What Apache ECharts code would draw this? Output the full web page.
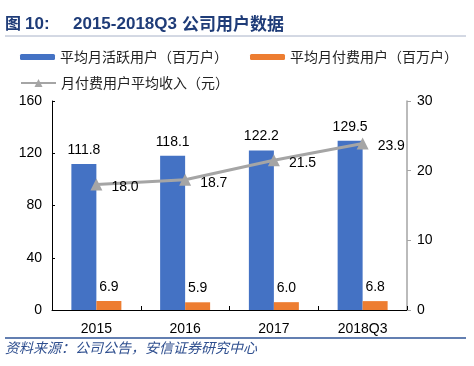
<!DOCTYPE html>
<html><head><meta charset="utf-8">
<style>html,body{margin:0;padding:0;background:#fff;}#c{width:474px;height:366px;}</style>
<script src="https://cdn.jsdelivr.net/npm/echarts@6/dist/echarts.min.js"></script>
</head><body><div id="c"></div>
<script>
var categories = ['2015', '2016', '2017', '2018Q3'];
var mau = [111.8, 118.1, 122.2, 129.5];
var payingUsers = [6.9, 5.9, 6.0, 6.8];
var arppu = [18.0, 18.7, 21.5, 23.9];
var leftTicks = [0, 40, 80, 120, 160];
var rightTicks = [0, 10, 20, 30];

var chart = echarts.init(document.getElementById('c'), null, {renderer: 'canvas'});
var numFont = 'Liberation Sans, Arial, sans-serif';
var cjkFont = '"Noto Sans CJK SC", sans-serif';
var names = ['平均月活跃用户（百万户）', '平均月付费用户（百万户）', '月付费用户平均收入（元）'];
chart.setOption({
  animation: false,
  backgroundColor: '#fff',
  graphic: [
    {type: 'text', left: 5, top: 15, style: {text: '图', font: 'bold 16px ' + cjkFont, fill: '#1F3C78'}},
    {type: 'text', left: 25, top: 16, style: {text: '10:', font: 'bold 17px ' + numFont, fill: '#1F3C78'}},
    {type: 'text', left: 73, top: 16, style: {text: '2015-2018Q3', font: 'bold 17px ' + numFont, fill: '#1F3C78'}},
    {type: 'text', left: 182, top: 15, style: {text: '公司用户数据', font: 'bold 17px ' + cjkFont, fill: '#1F3C78'}},
    {type: 'line', shape: {x1: 5, y1: 36, x2: 466, y2: 36}, style: {stroke: '#A8B2C8', lineWidth: 1}},
    {type: 'line', shape: {x1: 5, y1: 338, x2: 466, y2: 338}, style: {stroke: '#2F5597', lineWidth: 1.5}},
    {type: 'text', left: 5, top: 341, style: {text: '资料来源：公司公告，安信证券研究中心', font: 'italic 14px ' + cjkFont, fill: '#2F4F8F'}}
  ],
  legend: [
    {data: [names[0]], left: 15, top: 45, itemWidth: 35, itemHeight: 6,
     textStyle: {fontSize: 14, fontFamily: cjkFont, color: '#222'}},
    {data: [names[1]], left: 245, top: 45, itemWidth: 35, itemHeight: 6,
     textStyle: {fontSize: 14, fontFamily: cjkFont, color: '#222'}},
    {data: [names[2]], left: 15, top: 71, itemWidth: 35, itemHeight: 10,
     textStyle: {fontSize: 14, fontFamily: cjkFont, color: '#222'}}
  ],
  grid: {left: 52, right: 67, top: 101, bottom: 56, containLabel: false},
  xAxis: {
    type: 'category', data: categories,
    axisLine: {lineStyle: {color: '#000', width: 1}},
    axisTick: {show: true, inside: true, length: 4, alignWithLabel: false, lineStyle: {color: '#000'}},
    axisLabel: {fontSize: 14, fontFamily: numFont, color: '#000', margin: 12}
  },
  yAxis: [
    {type: 'value', min: 0, max: 160, interval: 40,
     axisLine: {show: true, lineStyle: {color: '#000'}},
     axisTick: {show: true, inside: true, length: 3, lineStyle: {color: '#000'}},
     splitLine: {show: false},
     axisLabel: {fontSize: 14, fontFamily: numFont, color: '#000', margin: 10}},
    {type: 'value', min: 0, max: 30, interval: 10, position: 'right',
     axisLine: {show: true, lineStyle: {color: '#A5A5A5', width: 1.5}},
     axisTick: {show: true, length: 4, lineStyle: {color: '#A5A5A5'}},
     splitLine: {show: false},
     axisLabel: {fontSize: 14, fontFamily: numFont, color: '#000', margin: 10}}
  ],
  series: [
    {name: names[0], type: 'bar', data: mau, barWidth: 25, barGap: '0%',
     itemStyle: {color: '#4472C4'},
     label: {show: true, position: 'top', distance: 7, fontSize: 14, fontFamily: numFont, color: '#000', formatter: function(p){return p.value.toFixed(1);}}},
    {name: names[1], type: 'bar', data: payingUsers, barWidth: 25,
     itemStyle: {color: '#ED7D31'},
     label: {show: true, position: 'top', distance: 7, fontSize: 14, fontFamily: numFont, color: '#000', formatter: function(p){return p.value.toFixed(1);}}},
    {name: names[2], type: 'line', yAxisIndex: 1, data: arppu,
     symbol: 'triangle', symbolSize: 12,
     lineStyle: {color: '#A5A5A5', width: 3}, itemStyle: {color: '#A5A5A5'},
     label: {show: true, position: 'right', distance: 5, offset: [4, 3], fontSize: 14, fontFamily: numFont, color: '#000', formatter: function(p){return p.value.toFixed(1);}}}
  ]
});
</script></body></html>
